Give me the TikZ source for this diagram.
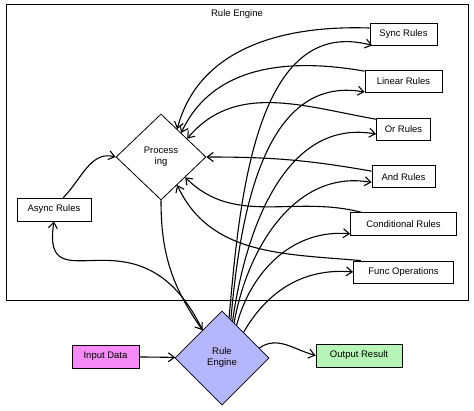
\documentclass[tikz,border=0pt]{standalone}
\usepackage{fontspec}
\setmainfont{Liberation Sans}
\usetikzlibrary{shapes.geometric, arrows.meta}
\definecolor{inputpink}{RGB}{245,140,245}
\definecolor{engineblue}{RGB}{182,182,252}
\definecolor{outputgreen}{RGB}{184,246,184}
\tikzstyle{rulebox} = [rectangle, 
minimum height=22pt, 
inner sep=2pt, 
text centered, 
line width=0.8pt, 
draw=black, 
fill=white]
\tikzstyle{decision} = [diamond, 
inner sep=0pt, 
align=center, 
line width=0.8pt, 
draw=black]
\tikzstyle{arrow} = [line width=1.1pt,-{Straight Barb[length=6pt,width=9pt]}]

\begin{document}
\begin{tikzpicture}[x=1pt,y=-1pt,node distance=47.6pt,font=\fontsize{9.5}{11}\selectfont]
\useasboundingbox (0,0) rectangle (474,411);

% Frame
\node (frame) [draw, line width=1pt, minimum width=462pt, minimum height=296pt, inner sep=0pt] at (237,153) {};
\node (title) at (237,14) {Rule Engine};

% Nodes
\node (proc) [decision, minimum width=90pt, minimum height=86pt] at (161,157) {Process\\ing};
\node (re) [decision, fill=engineblue, minimum width=94pt, minimum height=94pt] at (222,358) {Rule\\Engine};
\node (sync) [rulebox, minimum width=67pt] at (403.5,34) {Sync Rules};
\node (linear) [rulebox, below of=sync, minimum width=77pt] {Linear Rules};
\node (orr) [rulebox, below of=linear, minimum width=54pt] {Or Rules};
\node (and) [rulebox, below of=orr, minimum width=63pt] {And Rules};
\node (cond) [rulebox, below of=and, minimum width=106pt, minimum height=23pt] {Conditional Rules};
\node (func) [rulebox, below of=cond, minimum width=100pt] {Func Operations};
\node (async) [rulebox, minimum width=74pt, minimum height=23pt] at (54,209.5) {Async Rules};
\node (input) [rulebox, fill=inputpink, minimum width=67pt, minimum height=23pt] at (105.5,356.5) {Input Data};
\node (output) [rulebox, fill=outputgreen, minimum width=86pt, minimum height=23pt] at (359,355.5) {Output Result};

% Arrows
\draw [arrow] (sync.170) to[out=178,in=75] (proc.60);
\draw [arrow] (linear.165) to[out=170,in=65] (proc.50);
\draw [arrow] (orr.160) to[out=170,in=50] (proc.35);
\draw [arrow] (and.170) to[out=170,in=0] (proc.east);
\draw [arrow] (cond.164) to[out=165,in=-45] (proc.-40);
\draw [arrow] (func.165) to[out=175,in=-65] (proc.-60);

\draw [arrow] (re.80) to[out=85,in=165] (sync.200);
\draw [arrow] (re.77) to[out=85,in=170] (linear.195);
\draw [arrow] (re.74) to[out=82,in=170] (orr.190);
\draw [arrow] (re.71) to[out=80,in=170] (and.190);
\draw [arrow] (re.66) to[out=75,in=175] (cond.190);
\draw [arrow] (re.50) to[out=60,in=175] (func.west);

\draw [arrow] (proc.south) to[out=-90,in=125] (re.125);
\draw [arrow] (re.125) .. controls (140,200) and (40,310) .. (async.south);
\draw [arrow] (async.52) to[out=45,in=165] (proc.west);
\draw [arrow] (input) -- (re);
\draw [arrow] (re.15) to[out=35,in=165] (output.west);

\end{tikzpicture}
\end{document}
